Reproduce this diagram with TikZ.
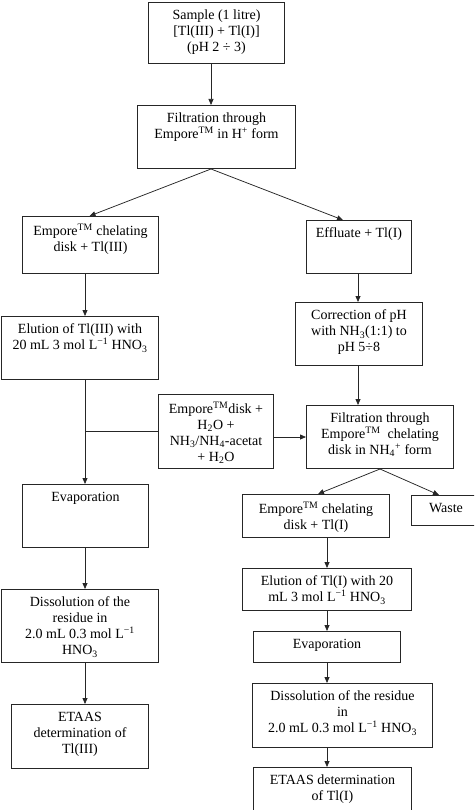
\documentclass[tikz,border=0pt]{standalone}
\usepackage{fontspec}
\setmainfont{Liberation Serif}
\usetikzlibrary{arrows.meta,calc}
% top-aligned text inside a box of fixed size
\newcommand{\boxtext}[3]{\parbox[c][#2][t]{#1}{\centering\vspace*{7.5pt}#3}}
\newcommand{\tm}{\textsuperscript{TM}}

\begin{document}
\begin{tikzpicture}[
  x=1pt, y=-1pt,
  font=\fontsize{14}{16}\selectfont,
  stepbox/.style={draw=black!85, line width=1pt, inner sep=0pt, anchor=north west},
  arr/.style={-{Triangle[length=6pt,width=5pt]}, line width=0.75pt, draw=black!85},
  link/.style={line width=0.75pt, draw=black!85},
]
\useasboundingbox (0,0) rectangle (474,810);
\clip (0,0) rectangle (474,810);
% column spines
\coordinate (lcol) at (85,0);
\coordinate (rcol) at (358,0);
\coordinate (tcol) at (327,0);
\coordinate (mcol) at (211,0);

\node[stepbox] (sample) at (148,2)
  {\boxtext{136pt}{61pt}{Sample (1 litre)\\ {[}Tl(III) + Tl(I){]}\\ (pH 2 ÷ 3)}};
\node[stepbox] (filtH) at (137,105)
  {\boxtext{158pt}{63pt}{Filtration through\\ Empore\tm\ in H\textsuperscript{+} form}};
\node[stepbox] (chelIII) at (22,216)
  {\boxtext{136pt}{57pt}{Empore\tm\ chelating\\ disk + Tl(III)}};
\node[stepbox] (effl) at (306,220)
  {\boxtext{105pt}{53pt}{Effluate + Tl(I)}};
\node[stepbox] (eluIII) at (1,316)
  {\boxtext{157pt}{63pt}{Elution of Tl(III) with\\ 20 mL 3 mol L\textsuperscript{−1} HNO\textsubscript{3}}};
\node[stepbox] (corr) at (295,302)
  {\boxtext{127pt}{63pt}{Correction of pH\\ with NH\textsubscript{3}(1:1) to\\ pH 5÷8}};
\node[stepbox] (reag) at (158,394)
  {\boxtext{115pt}{74pt}{Empore\tm disk +\\ H\textsubscript{2}O +\\ NH\textsubscript{3}/NH\textsubscript{4}-acetat\\ + H\textsubscript{2}O}};
\node[stepbox] (filtNH) at (306,405)
  {\boxtext{147pt}{63pt}{Filtration through\\ Empore\tm\ \ chelating\\ disk in NH\textsubscript{4}\textsuperscript{+} form}};
\node[stepbox] (evapIII) at (22,484)
  {\boxtext{126pt}{63pt}{Evaporation}};
\node[stepbox] (chelI) at (242,494)
  {\boxtext{147pt}{43pt}{Empore\tm\ chelating\\ disk + Tl(I)}};
\node[stepbox] (waste) at (411,495)
  {\boxtext{69pt}{30pt}{Waste}};
\node[stepbox] (dissIII) at (1,589)
  {\boxtext{157pt}{73pt}{Dissolution of the\\ residue in\\ 2.0 mL 0.3 mol L\textsuperscript{−1}\\ HNO\textsubscript{3}}};
\node[stepbox] (eluI) at (242,568)
  {\boxtext{169pt}{42pt}{Elution of Tl(I) with 20\\ mL 3 mol L\textsuperscript{−1} HNO\textsubscript{3}}};
\node[stepbox] (evapI) at (253,631)
  {\boxtext{147pt}{31pt}{Evaporation}};
\node[stepbox] (dissI) at (252,683)
  {\boxtext{180pt}{64pt}{Dissolution of the residue\\ in\\ 2.0 mL 0.3 mol L\textsuperscript{−1} HNO\textsubscript{3}}};
\node[stepbox] (etaasIII) at (11,704)
  {\boxtext{137pt}{64pt}{ETAAS\\ determination of\\ Tl(III)}};
\node[stepbox] (etaasI) at (253,767)
  {\boxtext{158pt}{63pt}{ETAAS determination\\ of Tl(I)}};

% main trunk
\draw[arr] (sample.south -| mcol) -- (filtH.north -| mcol);
\coordinate (split) at (filtH.south -| mcol);
\draw[arr] (split) -- ([xshift=-1pt]chelIII.north);
\draw[arr] (split) -- ([xshift=-16pt]effl.north);
% left branch
\draw[arr] (chelIII.south -| lcol) -- (eluIII.north -| lcol);
\draw[arr] (eluIII.south -| lcol) -- (evapIII.north -| lcol);
\draw[link] (reag.west) -- (reag.west -| lcol);
\draw[arr] (evapIII.south -| lcol) -- (dissIII.north -| lcol);
\draw[arr] (dissIII.south -| lcol) -- (etaasIII.north -| lcol);
% right branch
\draw[arr] (effl.south -| rcol) -- (corr.north -| rcol);
\draw[arr] (corr.south -| rcol) -- (filtNH.north -| rcol);
\draw[arr] (reag.east |- filtNH.west) -- (filtNH.west);
\draw[arr] (filtNH.south) -- ([xshift=2pt]chelI.north);
\draw[arr] (filtNH.south) -- ([xshift=-7pt]waste.north);
\draw[arr] (chelI.south -| tcol) -- (eluI.north -| tcol);
\draw[arr] (eluI.south -| tcol) -- (evapI.north -| tcol);
\draw[arr] (evapI.south -| tcol) -- (dissI.north -| tcol);
\draw[arr] (dissI.south -| tcol) -- (etaasI.north -| tcol);
\end{tikzpicture}
\end{document}
